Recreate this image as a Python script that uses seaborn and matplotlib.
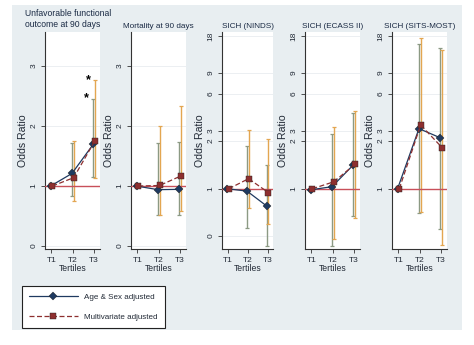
import numpy as np
import pandas as pd
import matplotlib
matplotlib.use("Agg")
import matplotlib.pyplot as plt
import seaborn as sns
from matplotlib.patches import Rectangle
from matplotlib.lines import Line2D

# ---------------- data ----------------
tertiles = ["T1", "T2", "T3"]
titles = ["Unfavorable functional\noutcome at 90 days", "Mortality at 90 days",
          "SICH (NINDS)", "SICH (ECASS II)", "SICH (SITS-MOST)"]
series_names = ["Age & Sex adjusted", "Multivariate adjusted"]

age_sex_or = [[1.00, 1.21, 1.70], [1.00, 0.94, 0.945], [1.00, 0.957, 0.72],
              [0.98, 1.04, 1.57], [1.00, 3.12, 2.62]]
age_sex_lo = [[np.nan, 0.84, 1.15], [np.nan, 0.51, 0.51], [np.nan, 0.48, 0.34],
              [np.nan, 0.34, 0.60], [np.nan, 0.63, 0.47]]
age_sex_hi = [[np.nan, 1.72, 2.45], [np.nan, 1.72, 1.74], [np.nan, 2.26, 1.56],
              [np.nan, 2.82, 4.16], [np.nan, 15.6, 14.4]]
multi_or = [[1.00, 1.14, 1.76], [1.00, 1.01, 1.17], [1.00, 1.21, 0.93],
            [1.00, 1.14, 1.59], [1.00, 3.34, 2.18]]
multi_lo = [[np.nan, 0.75, 1.14], [np.nan, 0.52, 0.59], [np.nan, 0.69, 0.51],
            [np.nan, 0.39, 0.57], [np.nan, 0.65, 0.345]]
multi_hi = [[np.nan, 1.76, 2.77], [np.nan, 2.00, 2.33], [np.nan, 3.05, 2.56],
            [np.nan, 3.19, 4.35], [np.nan, 17.2, 13.8]]

lin_ticks = [0, 1, 2, 3]
lin_labels = ["0", "1", "2", "3"]
log_ticks = [0.41, 1, 2.46, 3, 6, 9, 18]
log_labels = ["0", "1", "2", "3", "6", "9", "18"]
asterisk_x = [2.62, 2.74]
asterisk_y = [2.47, 2.77]

# ---------------- style ----------------
sns.set_theme(style="white")
plt.rcParams["font.family"] = ["Liberation Sans", "DejaVu Sans"]

W, H = 474, 345
fig = plt.figure(figsize=(W / 100, H / 100), dpi=100)
fig.patch.set_facecolor("white")
fig.patches.append(Rectangle((12 / W, 1 - 330 / H), 450 / W, 325 / H,
                             transform=fig.transFigure, facecolor="#e8eef1",
                             edgecolor="none", zorder=-5))

NAVY = "#1f3a60"
MAROON = "#8e2f2f"
CI_A = "#8c9a84"
CI_M = "#e3a651"
REF = "#c8505a"
TXT = "#222a36"

def axpx(l, t, r, b):
    return fig.add_axes([l / W, 1 - b / H, (r - l) / W, (b - t) / H])

boxes = [(45, 32, 100, 249), (131, 32, 186, 249), (222, 32, 273, 249),
         (305, 32, 360, 249), (392, 32, 447, 249)]
off = 0.04

for i, box in enumerate(boxes):
    ax = axpx(*box)
    ax.set_zorder(1)
    ax.set_facecolor("white")
    logp = i >= 2
    if logp:
        ax.set_yscale("log")
    rows = []
    for s, (o, lo, hi) in enumerate([(age_sex_or[i], age_sex_lo[i], age_sex_hi[i]),
                                     (multi_or[i], multi_lo[i], multi_hi[i])]):
        for k in range(3):
            rows.append(dict(x=k + 1 + (-off if s == 0 else off), y=o[k], lo=lo[k], hi=hi[k],
                             series=series_names[s]))
    df = pd.DataFrame(rows)
    for s, col in zip(series_names, [CI_A, CI_M]):
        d = df[(df.series == s) & df.lo.notna()]
        ax.errorbar(d.x, d.y, yerr=[d.y - d.lo, d.hi - d.y], fmt="none", ecolor=col,
                    elinewidth=1.0, capsize=1.5, capthick=0.9, zorder=2)
    ax.axhline(1, color=REF, lw=1.0, zorder=3)
    sns.lineplot(data=df, x="x", y="y", hue="series", style="series",
                 palette=[NAVY, MAROON], dashes=[(1, 0), (4, 2)],
                 markers=["D", "s"], markersize=4.4, linewidth=0.9,
                 markeredgecolor="#222222", markeredgewidth=0.3,
                 legend=False, ax=ax, zorder=4, sort=False)
    ax.set_xlim(0.7, 3.27)
    ax.set_xticks([1, 2, 3])
    ax.set_xticklabels(tertiles)
    if logp:
        ax.set_ylim(0.32, 19.4)
        ax.minorticks_off()
        if i == 2:
            ax.set_yticks(log_ticks)
            ax.set_yticklabels(log_labels)
        else:
            ax.set_yticks(log_ticks[1:])
            ax.set_yticklabels(log_labels[1:])
        ax.minorticks_off()
    else:
        ax.set_ylim(-0.05, 3.57)
        ax.set_yticks(lin_ticks)
        ax.set_yticklabels(lin_labels)
    ax.grid(axis="y", color="#e9edf0", lw=0.6)
    ax.grid(axis="x", visible=False)
    for sp in ["top", "right"]:
        ax.spines[sp].set_visible(False)
    for sp in ["left", "bottom"]:
        ax.spines[sp].set_color("#333333")
        ax.spines[sp].set_linewidth(0.8)
    ax.tick_params(axis="both", direction="out", length=3, width=0.6, color="#333333",
                   labelsize=6, pad=2.5, left=True, bottom=True, labelcolor=TXT)
    for lab in ax.get_yticklabels():
        lab.set_rotation(90)
        lab.set_va("center")
    ax.set_xlabel("Tertiles", fontsize=6.2, labelpad=0.3, color=TXT)
    ax.set_ylabel("Odds Ratio", fontsize=7.6, labelpad=2, color=TXT)
    if i == 0:
        for xx, yy in zip(asterisk_x, asterisk_y):
            ax.text(xx, yy, "*", fontsize=9, fontweight="bold", ha="center", va="center",
                    color="black", zorder=6)
        fig.text(25 / W, 1 - 9 / H, titles[i], fontsize=6.2, ha="left", va="top",
                 color="#1a2a44", linespacing=1.35)
    else:
        cx = (box[0] + box[2]) / 2
        fig.text(cx / W, 1 - 26 / H, titles[i], fontsize=5.9, ha="center", va="center",
                 color="#1a2a44")

handles = [Line2D([], [], color=NAVY, lw=0.9, marker="D", markersize=4.5,
                  markeredgecolor="#222222", markeredgewidth=0.3),
           Line2D([], [], color=MAROON, lw=0.9, ls=(0, (4, 2)), marker="s", markersize=4.5,
                  markeredgecolor="#222222", markeredgewidth=0.3)]
leg = fig.legend(handles, series_names, loc="upper left",
                 bbox_to_anchor=(22 / W, 1 - 286 / H), fontsize=5.8, frameon=True,
                 fancybox=False, edgecolor="#222222", facecolor="white", framealpha=1,
                 handlelength=6.0, handletextpad=0.8, borderpad=0.9, labelspacing=1.5,
                 borderaxespad=0)
leg.get_frame().set_linewidth(0.8)
for t in leg.get_texts():
    t.set_color(TXT)

fig.savefig("out.png", dpi=100, facecolor="white")
